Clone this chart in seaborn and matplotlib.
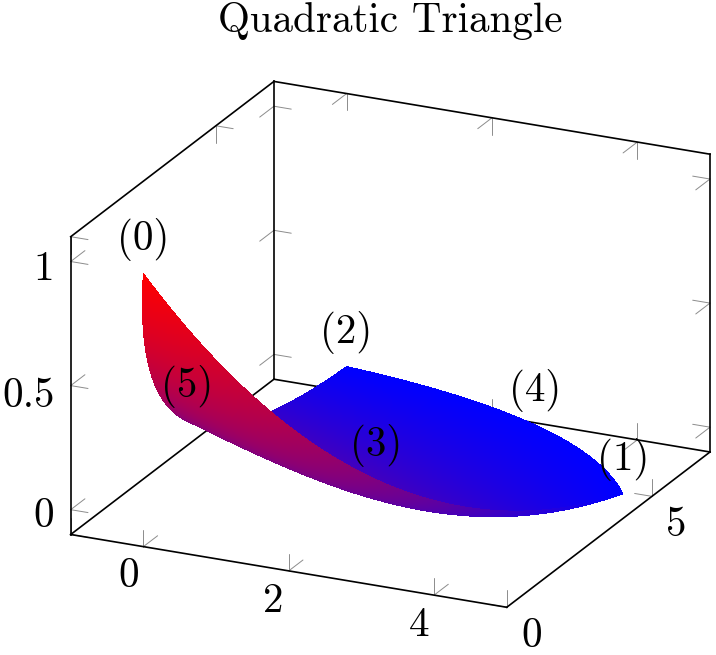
import numpy as np
import matplotlib
matplotlib.use('Agg')
import matplotlib.pyplot as plt
import seaborn as sns
from mpl_toolkits.mplot3d import proj3d

# six nodes of the patch, corners first and then edge midpoints
node_x = [0, 5, 0, 2, 3, -1]
node_y = [0, 4, 7, 3, 6, 4]
node_z = [1, 0, 0, 0, 0, 0]
node_labels = ['(0)', '(1)', '(2)', '(3)', '(4)', '(5)']

x_ticks = [0, 2, 4]
y_ticks = [0, 5]
z_ticks = [0, 0.5, 1]
z_tick_labels = ['0', '0.5', '1']
x_lim = (-1, 5)
y_lim = (0, 7)
z_lim = (-0.1, 1.1)
title = 'Quadratic Triangle'

sns.set_theme(style='white')
plt.rcParams['font.family'] = ['cmr10', 'DejaVu Sans']
plt.rcParams['axes.unicode_minus'] = False
font = 29.6

fig = plt.figure(figsize=(7.16, 6.55), dpi=100)
ax = fig.add_subplot(projection='3d', proj_type='ortho', computed_zorder=False)
ax.set_position([0, 0, 1, 1])
ax.set_axis_off()
ax.view_init(elev=20.92, azim=-64.95)
ax.set_xlim(*x_lim, view_margin=0)
ax.set_ylim(*y_lim, view_margin=0)
ax.set_zlim(*z_lim, view_margin=0)
ax.set_box_aspect((481.3, 480, 318.8))
ax.apply_aspect()

# line the cube up with the pixel corners of the reference
M = ax.get_proj()
x0, y0, _ = proj3d.proj_transform(x_lim[0], y_lim[0], z_lim[0], M)
x1, y1, _ = proj3d.proj_transform(x_lim[1], y_lim[1], z_lim[1], M)
k = (710 - 70.7) / (x1 - x0)
pos = ax.get_position()
left = pos.x0 * 716
side = pos.width * 716
lo = x0 - (70.7 - left) / k
ax.viewLim.intervalx = (lo, lo + side / k)
lo = y0 - (655 - 534.5) / k
ax.viewLim.intervaly = (lo, lo + 655 / k)

# box
xa, xb = x_lim
ya, yb = y_lim
za, zb = z_lim
edges = [
    ((xa, xb), (ya, ya), (za, za)),
    ((xb, xb), (ya, yb), (za, za)),
    ((xa, xb), (yb, yb), (za, za)),
    ((xa, xa), (ya, yb), (za, za)),
    ((xa, xa), (ya, ya), (za, zb)),
    ((xa, xa), (yb, yb), (za, zb)),
    ((xb, xb), (yb, yb), (za, zb)),
    ((xa, xa), (ya, yb), (zb, zb)),
    ((xa, xb), (yb, yb), (zb, zb)),
]
for ex, ey, ez in edges:
    ax.plot(ex, ey, ez, color='black', lw=1.2, zorder=2, solid_capstyle='projecting', clip_on=False)

# gray ticks, two short strokes into the faces at every tick
dx_len, dy_len, dz_len = 0.238, 0.49, 0.068
tick_color = '#8c8c8c'


def tick(x, y, z, d1, d2):
    for d in (d1, d2):
        ax.plot((x, x + d[0]), (y, y + d[1]), (z, z + d[2]), color=tick_color, lw=0.7, zorder=1, clip_on=False)


for v in x_ticks:
    tick(v, ya, za, (0, dy_len, 0), (0, 0, dz_len))
    tick(v, yb, za, (0, -dy_len, 0), (0, 0, dz_len))
    tick(v, yb, zb, (0, -dy_len, 0), (0, 0, -dz_len))
for v in y_ticks:
    tick(xb, v, za, (-dx_len, 0, 0), (0, 0, dz_len))
    tick(xa, v, za, (dx_len, 0, 0), (0, 0, dz_len))
    tick(xa, v, zb, (dx_len, 0, 0), (0, 0, -dz_len))
for v in z_ticks:
    tick(xa, ya, v, (dx_len, 0, 0), (0, dy_len, 0))
    tick(xa, yb, v, (dx_len, 0, 0), (0, -dy_len, 0))
    tick(xb, yb, v, (-dx_len, 0, 0), (0, -dy_len, 0))


def edge(a, m, b, p):
    return (1 - p) * (1 - 2 * p) * a + 4 * p * (1 - p) * m + p * (2 * p - 1) * b


# the patch is a coons patch collapsed at node 1, u runs from node 0 to node 2, v towards node 1
def coons(w, u, v):
    e02 = edge(w[0], w[5], w[2], u)
    e01 = edge(w[0], w[3], w[1], v)
    e21 = edge(w[2], w[4], w[1], v)
    corners = (1 - u) * (1 - v) * w[0] + u * (1 - v) * w[2] + v * w[1]
    return (1 - v) * e02 + v * w[1] + (1 - u) * e01 + u * e21 - corners


n = 200
u, v = np.meshgrid(np.linspace(1, 0, n), np.linspace(1, 0, n), indexing='ij')
X = coons(node_x, u, v)
Y = coons(node_y, u, v)
Z = coons(node_z, u, v)
meta = node_z[0] * (1 - u) * (1 - v)
cmap = sns.blend_palette(['#0000ff', '#ff0000'], as_cmap=True)
cols = cmap(meta)
# one strip at a time so that the edge from node 0 to node 1 is painted last
for i in range(n - 1):
    ax.plot_surface(X[i:i + 2], Y[i:i + 2], Z[i:i + 2], rstride=1, cstride=1, facecolors=cols[i:i + 2],
                    shade=False, linewidth=0, antialiased=False, zorder=5 + i * 0.001, clip_on=False)


def put(x, y, z, txt, dx, dy, ha='center'):
    px, py, _ = proj3d.proj_transform(x, y, z, M)
    ax.annotate(txt, xy=(px, py), xycoords='data', xytext=(dx, dy), textcoords='offset pixels',
                ha=ha, va='center', fontsize=font, color='black', zorder=10, annotation_clip=False)


for t in x_ticks:
    put(t, ya, za, str(t), -15, -30)
for t in y_ticks:
    put(xb, t, za, str(t), 24.5, -29)
for t, lab, off, dx in zip(z_ticks, z_tick_labels, [-7, -10.5, -7.5], [-16.5, -15.5, -16.5]):
    put(xa, ya, t, lab, dx, off, ha='right')
for i, lab in enumerate(node_labels):
    put(node_x[i], node_y[i], node_z[i], lab, 0, 34.5)

fig.text(390.5 / 716, 1 - 21 / 655, title, ha='center', va='center', fontsize=font, color='black')

fig.savefig('out.png', dpi=100)
